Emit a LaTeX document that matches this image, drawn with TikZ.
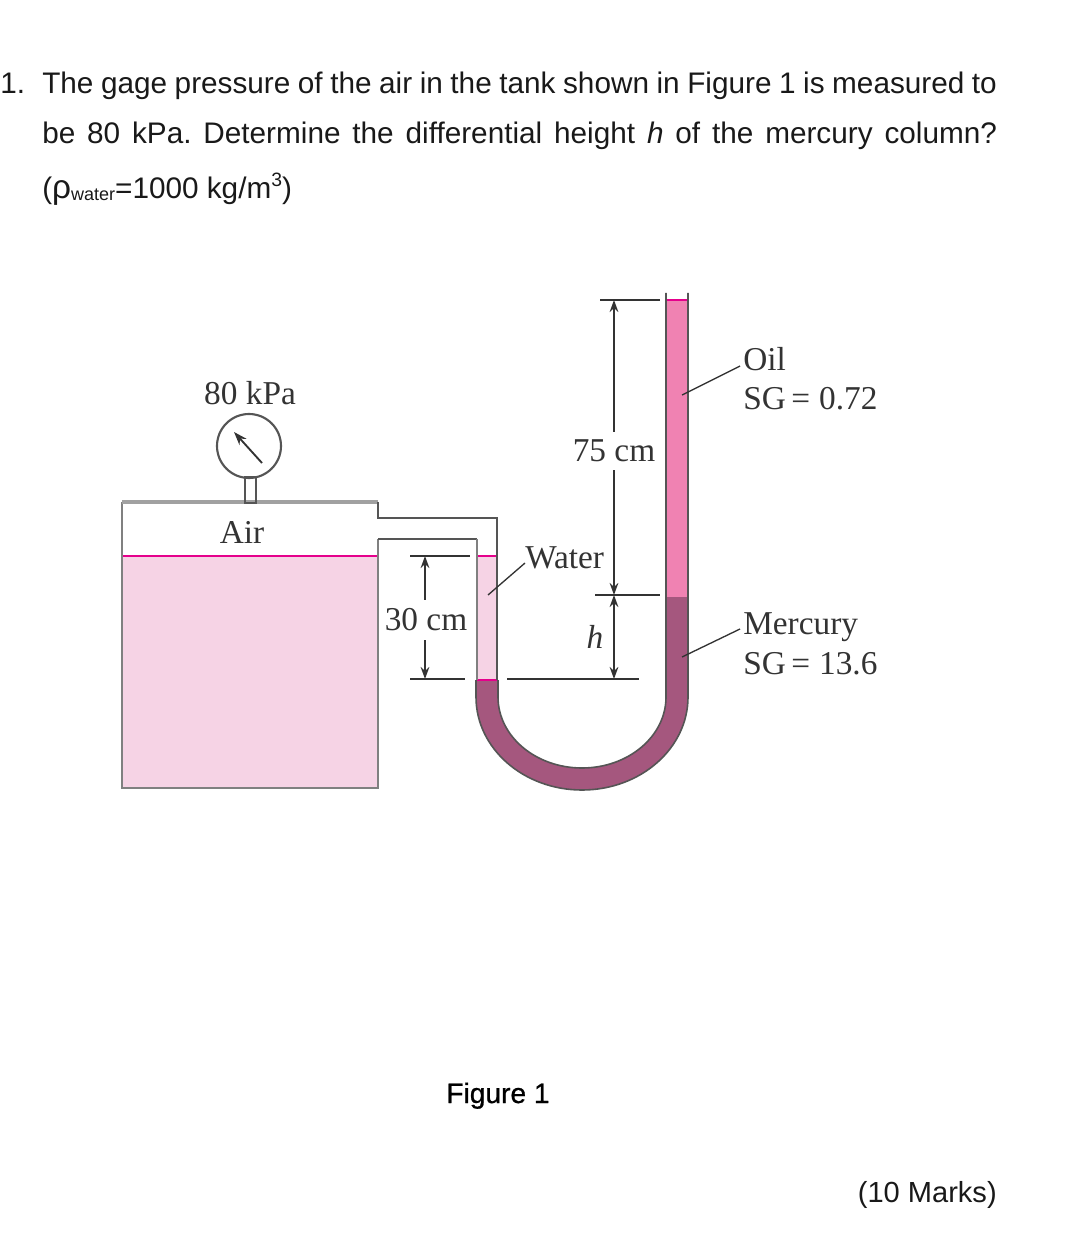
\documentclass[tikz,border=0pt]{standalone}
\usepackage{fontspec}
\setmainfont{Liberation Serif}
\newfontfamily\qfont{Liberation Sans}
\newfontfamily\qbold[FakeBold=0.8]{Liberation Sans}
\usetikzlibrary{arrows.meta}
\definecolor{waterpink}{HTML}{F6D3E5}
\definecolor{oilpink}{HTML}{F082B2}
\definecolor{mercury}{HTML}{A5577E}
\definecolor{surface}{HTML}{E5008C}
\definecolor{wall}{HTML}{555555}
\definecolor{ink}{HTML}{333333}
\tikzset{
  x=0.75pt,y=-0.75pt,
  wallline/.style={draw=wall,line width=1.9pt},
  thinwall/.style={draw=wall,line width=1.2pt},
  dimline/.style={draw=ink,line width=1.4pt},
  dimtip/.tip={Stealth[length=9pt,width=6.5pt]},
  dimarrow/.style={dimline,-dimtip},
  leader/.style={draw=ink,line width=1pt},
  surfaceline/.style={draw=surface,line width=1.8pt},
  lab/.style={inner sep=0pt,font=\fontsize{25}{28}\selectfont,text=ink},
  labl/.style={lab,anchor=west},
  qtext/.style={inner sep=0pt,anchor=base west,font=\qfont\fontsize{22.3}{26}\selectfont,text=black!90}
}
\begin{document}
\begin{tikzpicture}
\useasboundingbox (0,0) rectangle (1080,1244);
% question text
\node[qtext] (qnum) at (0,94) {1.};
\node[qtext] (q1) at (42,94) {\makebox[716pt][s]{The gage pressure of the air in the tank shown in Figure 1 is measured to}};
\node[qtext] (q2) at (42,144) {\frenchspacing\makebox[716pt][s]{be 80 kPa. Determine the differential height \textit{h} of the mercury column?}};
\node[qtext] (q3) at (42,199) {({\fontsize{25}{26}\selectfont ρ}\raisebox{-1.5pt}{\fontsize{13.5}{15}\selectfont water}=1000 kg/m\raisebox{9pt}{\fontsize{14.5}{15}\selectfont 3})};
\node[inner sep=0pt,anchor=base,font=\qbold\fontsize{21.1}{26}\selectfont] (figcap) at (498,1103) {Figure 1};
\node[qtext,anchor=base east,font=\qfont\fontsize{21.8}{26}\selectfont] (marks) at (997,1202) {(10 Marks)};
% fills
\fill[waterpink] (122,556) rectangle (378,788);
\fill[waterpink] (477,556) rectangle (497,680);
\fill[oilpink] (666,300) rectangle (688,597);
\fill[mercury] (476,680) -- (476,697) arc[start angle=180,end angle=360,x radius=79.5pt,y radius=69.75pt]
  -- (688,597) -- (666,597) -- (666,697)
  arc[start angle=360,end angle=180,x radius=63pt,y radius=53.25pt] -- (498,680) -- cycle;
% surfaces
\draw[surfaceline] (122,556) -- (378,556);
\draw[surfaceline] (477,556) -- (497,556);
\draw[surfaceline] (477,680) -- (497,680);
\draw[surfaceline] (666,300) -- (688,300);
% tank and piping
\draw[wallline,draw=wall!75] (122,502) -- (122,788) -- (378,788) -- (378,539);
\draw[wallline] (378,539) -- (477,539);
\draw[wallline,draw=wall!75] (477,539) -- (477,680);
\draw[wallline,draw=wall!55,line width=2.4pt] (122,502) -- (378,502);
\draw[wallline] (378,502) -- (378,518) -- (497,518) -- (497,680);
% U tube outline
\draw[thinwall] (476,680) -- (476,697) arc[start angle=180,end angle=360,x radius=79.5pt,y radius=69.75pt] -- (688,293);
\draw[thinwall] (498,680) -- (498,697) arc[start angle=180,end angle=360,x radius=63pt,y radius=53.25pt] -- (666,293);
% gauge
\node[draw=wall,line width=1.6pt,circle,minimum size=48pt,inner sep=0pt] (gauge) at (249,446) {};
\node[draw=wall,line width=1.6pt,minimum width=8pt,minimum height=19.5pt,inner sep=0pt] (stem) at (250.5,490) {};
\coordinate (ntail) at (262,463);
\coordinate (nhead) at (234,432);
\draw[dimline,-{Stealth[length=10pt,width=7pt]}] (ntail) -- (nhead);
% labels
\node[lab] (kpa) at (250,393) {80 kPa};
\node[lab] (air) at (242,532) {Air};
\node[lab,minimum height=30pt] (d30) at (426,620) {30 cm};
\node[lab,minimum height=28.5pt] (d75) at (614,451) {75 cm};
\node[lab,font=\fontsize{25}{28}\selectfont\itshape] (dh) at (595,637) {h};
\node[labl] (water) at (525,558) {Water};
\node[labl] (oil) at (743,359) {Oil};
\node[labl] (oilsg) at (743,399) {SG\,=\,\kern2.5pt 0.72};
\node[labl] (merc) at (743,627) {Mercury};
\node[labl] (mercsg) at (743,664) {SG\,=\,\kern2.5pt 13.6};
% dimension lines
\coordinate (t75a) at (600,300); \coordinate (t75b) at (660,300);
\coordinate (m75a) at (595,595); \coordinate (m75b) at (660,595);
\coordinate (ha) at (507,679); \coordinate (hb) at (639,679);
\coordinate (t30a) at (410,556); \coordinate (t30b) at (470,556);
\coordinate (b30a) at (410,679); \coordinate (b30b) at (465,679);
\draw[dimline] (t75a) -- (t75b);
\draw[dimline] (m75a) -- (m75b);
\draw[dimline] (ha) -- (hb);
\draw[dimline] (t30a) -- (t30b);
\draw[dimline] (b30a) -- (b30b);
\coordinate (v75top) at (614,300); \coordinate (v75bot) at (614,595);
\coordinate (vhbot) at (614,679);
\coordinate (v30top) at (425,556); \coordinate (v30bot) at (425,679);
\draw[dimarrow] (d75.north -| v75top) -- (v75top);
\draw[dimarrow] (d75.south -| v75top) -- (v75bot);
\draw[dimline,dimtip-dimtip] (v75bot) -- (vhbot);
\draw[dimarrow] (d30.north -| v30top) -- (v30top);
\draw[dimarrow] (d30.south -| v30top) -- (v30bot);
% leaders
\coordinate (loil) at (682,395);
\coordinate (lwater) at (488,595);
\coordinate (lmerc) at (682,657);
\draw[leader] (loil) -- ([shift={(-3,7)}]oil.west);
\draw[leader] (lwater) -- ([shift={(0,5)}]water.west);
\draw[leader] (lmerc) -- ([shift={(-3,2)}]merc.west);
\end{tikzpicture}
\end{document}
